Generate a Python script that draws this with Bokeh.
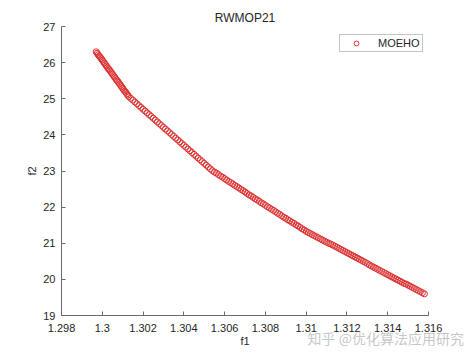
from bokeh.plotting import figure
from bokeh.models import (Range1d, FixedTicker, Label, Legend, LegendItem,
                          ColumnDataSource, LinearAxis)
from bokeh.embed import file_html
from bokeh.resources import INLINE

# ---- data ----
f1_seg1 = [1.29970, 1.29975, 1.29980, 1.29985, 1.29990, 1.29995, 1.30000, 1.30005,
           1.30010, 1.30015, 1.30020, 1.30025, 1.30030, 1.30035, 1.30040, 1.30045,
           1.30050, 1.30055, 1.30060, 1.30065, 1.30070, 1.30075, 1.30080, 1.30085,
           1.30090, 1.30095, 1.30100, 1.30105, 1.30110, 1.30115, 1.30120, 1.30125,
           1.30130]
f2_seg1 = [26.30, 26.26, 26.22, 26.18, 26.15, 26.11, 26.07, 26.03,
           25.99, 25.95, 25.91, 25.87, 25.83, 25.80, 25.76, 25.72,
           25.68, 25.64, 25.60, 25.56, 25.52, 25.49, 25.45, 25.41,
           25.37, 25.33, 25.29, 25.25, 25.21, 25.18, 25.14, 25.10,
           25.06]

f1_seg2 = [1.3014, 1.3015, 1.3016, 1.3017, 1.3018, 1.3019, 1.3020, 1.3021, 1.3022,
           1.3023, 1.3024, 1.3025, 1.3026, 1.3027, 1.3028, 1.3029, 1.3030, 1.3031,
           1.3032, 1.3033, 1.3034, 1.3035, 1.3036, 1.3037, 1.3038, 1.3039, 1.3040,
           1.3041, 1.3042, 1.3043, 1.3044, 1.3045, 1.3046, 1.3047, 1.3048, 1.3049,
           1.3050, 1.3051, 1.3052, 1.3053, 1.3054]
f2_seg2 = [25.01, 24.96, 24.91, 24.86, 24.81, 24.76, 24.71, 24.66, 24.61,
           24.56, 24.51, 24.46, 24.41, 24.36, 24.31, 24.26, 24.21, 24.16,
           24.11, 24.06, 24.01, 23.96, 23.91, 23.86, 23.81, 23.76, 23.71,
           23.66, 23.61, 23.56, 23.51, 23.46, 23.41, 23.36, 23.31, 23.26,
           23.21, 23.16, 23.11, 23.06, 23.01]

f1_seg3 = [1.3055, 1.3056, 1.3057, 1.3058, 1.3059, 1.3060, 1.3061, 1.3062, 1.3063,
           1.3064, 1.3065, 1.3066, 1.3067, 1.3068, 1.3069, 1.3070, 1.3071, 1.3072,
           1.3073, 1.3074, 1.3075, 1.3076, 1.3077, 1.3078, 1.3079, 1.3080, 1.3081,
           1.3082, 1.3083, 1.3084, 1.3085, 1.3086, 1.3087, 1.3088, 1.3089, 1.3090,
           1.3091, 1.3092, 1.3093, 1.3094, 1.3095, 1.3096, 1.3097, 1.3098, 1.3099,
           1.3100, 1.3101, 1.3102, 1.3103, 1.3104, 1.3105, 1.3106, 1.3107, 1.3108,
           1.3109, 1.3110, 1.3111, 1.3112, 1.3113, 1.3114, 1.3115, 1.3116, 1.3117,
           1.3118, 1.3119, 1.3120, 1.3121, 1.3122, 1.3123, 1.3124, 1.3125, 1.3126,
           1.3127, 1.3128, 1.3129, 1.3130, 1.3131, 1.3132, 1.3133, 1.3134, 1.3135,
           1.3136, 1.3137, 1.3138, 1.3139, 1.3140, 1.3141, 1.3142, 1.3143, 1.3144,
           1.3145, 1.3146, 1.3147, 1.3148, 1.3149, 1.3150, 1.3151, 1.3152, 1.3153,
           1.3154, 1.3155, 1.3156, 1.3157, 1.3158]
f2_seg3 = [22.97, 22.94, 22.90, 22.86, 22.83, 22.79, 22.75, 22.71, 22.68,
           22.64, 22.60, 22.57, 22.53, 22.49, 22.46, 22.42, 22.38, 22.34,
           22.31, 22.27, 22.23, 22.20, 22.16, 22.12, 22.09, 22.05, 22.01,
           21.98, 21.94, 21.91, 21.87, 21.83, 21.80, 21.76, 21.72, 21.69,
           21.65, 21.62, 21.58, 21.55, 21.51, 21.48, 21.44, 21.40, 21.37,
           21.33, 21.30, 21.27, 21.24, 21.21, 21.18, 21.15, 21.12, 21.09,
           21.06, 21.03, 21.00, 20.98, 20.95, 20.92, 20.89, 20.86, 20.83,
           20.80, 20.77, 20.74, 20.71, 20.68, 20.65, 20.62, 20.59, 20.56,
           20.53, 20.50, 20.47, 20.44, 20.40, 20.37, 20.34, 20.31, 20.28,
           20.25, 20.22, 20.19, 20.16, 20.13, 20.10, 20.07, 20.04, 20.01,
           19.98, 19.95, 19.92, 19.89, 19.87, 19.84, 19.81, 19.78, 19.75,
           19.72, 19.69, 19.66, 19.63, 19.60]

x_ticks = [1.298, 1.300, 1.302, 1.304, 1.306, 1.308, 1.310, 1.312, 1.314, 1.316]
x_tick_labels = ["1.298", "1.3", "1.302", "1.304", "1.306", "1.308", "1.31",
                 "1.312", "1.314", "1.316"]
y_ticks = [19, 20, 21, 22, 23, 24, 25, 26, 27]
x_lim = (1.298, 1.316)
y_lim = (19, 27)

title_text = "RWMOP21"
series_name = "MOEHO"
watermark = "知乎 @优化算法应用研究"

f1 = f1_seg1 + f1_seg2 + f1_seg3
f2 = f2_seg1 + f2_seg2 + f2_seg3

FONT = "Liberation Sans"
TXT = "#262626"
AX = "#6a6a6a"

# layout (pixels): visible axes box spans x=61..428, y=26..315 of a 474x355 canvas;
# the plotting frame covers the whole canvas so that tick labels, axis labels,
# the title and the watermark are not clipped.
W, H = 474, 355
AX_L, AX_T, AX_W, AX_H = 61, 26, 367, 289
x_per_px = (x_lim[1] - x_lim[0]) / AX_W
y_per_px = (y_lim[1] - y_lim[0]) / AX_H
x_range = Range1d(x_lim[0] - AX_L * x_per_px, x_lim[0] + (W - AX_L) * x_per_px)
y_range = Range1d(y_lim[1] - (H - AX_T) * y_per_px, y_lim[1] + AX_T * y_per_px)

p = figure(width=W, height=H, output_backend="svg", toolbar_location=None,
           x_range=x_range, y_range=y_range, x_axis_location=None,
           y_axis_location=None,
           min_border_left=0, min_border_right=0, min_border_top=0,
           min_border_bottom=0)
p.background_fill_color = "white"
p.border_fill_color = "white"
p.outline_line_color = None
p.grid.visible = False

src = ColumnDataSource(dict(f1=f1, f2=f2))
r = p.scatter("f1", "f2", source=src, marker="circle", size=6,
              fill_color=None, line_color="#dc2e2e", line_width=1)

xaxis = LinearAxis(fixed_location=y_lim[0], bounds=x_lim,
                   ticker=FixedTicker(ticks=x_ticks), axis_label="f1")
p.add_layout(xaxis, "below")
yaxis = LinearAxis(fixed_location=x_lim[0], bounds=y_lim,
                   ticker=FixedTicker(ticks=y_ticks), axis_label="f2")
p.add_layout(yaxis, "left")

for ax in (xaxis, yaxis):
    ax.axis_line_color = AX
    ax.major_tick_line_color = AX
    ax.major_tick_in = 4
    ax.major_tick_out = 0
    ax.minor_tick_line_color = None
    ax.major_label_text_font = FONT
    ax.major_label_text_font_size = "11px"
    ax.major_label_text_color = TXT
    ax.axis_label_text_font = FONT
    ax.axis_label_text_font_size = "11px"
    ax.axis_label_text_font_style = "normal"
    ax.axis_label_text_color = TXT

xaxis.major_label_overrides = {t: l for t, l in zip(x_ticks, x_tick_labels)}
xaxis.major_label_standoff = 8
xaxis.axis_label_standoff = 0
yaxis.major_label_standoff = 6
yaxis.axis_label_standoff = 2

legend = Legend(items=[LegendItem(label=series_name, renderers=[r])],
                location=(339, 303), padding=2,
                glyph_width=28, glyph_height=12, label_height=12,
                label_standoff=8, label_text_font=FONT,
                label_text_font_size="11px", label_text_color=TXT,
                border_line_color="#8a8a8a", border_line_width=1,
                background_fill_color="white", background_fill_alpha=1)
p.add_layout(legend)

title = Label(x=AX_L + AX_W / 2, y=17, x_units="canvas", y_units="canvas",
              text=title_text, text_font=FONT, text_font_size="12px",
              text_color=TXT, text_align="center", text_baseline="middle")
p.add_layout(title)

wm = Label(x=307, y=337, x_units="canvas", y_units="canvas", text=watermark,
           text_font="Noto Sans CJK SC", text_font_size="14px",
           text_color="#bdbdbd", text_alpha=0.85, text_baseline="middle")
p.add_layout(wm)

open("out.html", "w").write(file_html(p, INLINE))
